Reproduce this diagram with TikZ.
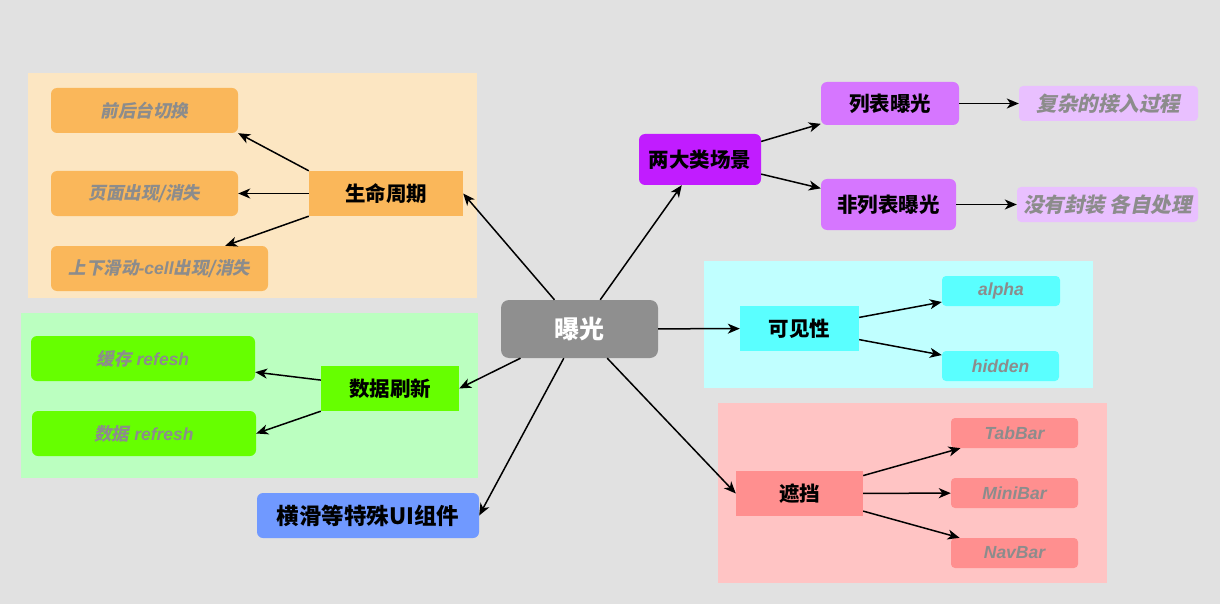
\documentclass[tikz,border=0pt]{standalone}
\usepackage{fontspec}
\setmainfont{Liberation Sans}
\newfontfamily\cjk{Noto Sans CJK SC}
\newfontfamily\cjkit{Noto Sans CJK SC}[FakeSlant=0.2]
\usetikzlibrary{arrows.meta}
\definecolor{pagebg}{RGB}{225,225,225}
\definecolor{orangebg}{RGB}{252,230,194}
\definecolor{orangebox}{RGB}{250,183,90}
\definecolor{greenbg}{RGB}{187,255,192}
\definecolor{greenbox}{RGB}{102,255,0}
\definecolor{cyanbg}{RGB}{192,255,255}
\definecolor{cyanbox}{RGB}{90,255,255}
\definecolor{pinkbg}{RGB}{255,196,196}
\definecolor{pinkbox}{RGB}{255,143,143}
\definecolor{purplebox}{RGB}{193,28,255}
\definecolor{lilacbox}{RGB}{214,118,255}
\definecolor{palebox}{RGB}{233,192,255}
\definecolor{bluebox}{RGB}{112,153,255}
\definecolor{mainbox}{RGB}{143,143,143}
\definecolor{leafgray}{RGB}{140,140,140}
\tikzset{
  topic/.style={inner sep=0pt, text=black, font=\cjk\bfseries\fontsize{20.5}{24}\selectfont},
  leaf/.style={inner sep=0pt, rounded corners=6pt, text=leafgray, font=\bfseries\fontsize{17.5}{20}\selectfont},
  link/.style={-{Stealth[length=12pt,width=10pt,inset=3.5pt]}, line width=1.5pt},
}
\begin{document}
\begin{tikzpicture}[x=1pt,y=-1pt]
	\fill[pagebg] (0,0) rectangle (1220,604);
	% groups
	\fill[orangebg] (28,73) rectangle (477,298);
	\fill[greenbg] (21,313) rectangle (478,478);
	\fill[cyanbg] (704,261) rectangle (1093,388);
	\fill[pinkbg] (718,403) rectangle (1107,583);
	% centre
	\node[topic,fill=mainbox,rounded corners=8pt,minimum width=157pt,minimum height=58pt,text=white,font=\cjk\bfseries\fontsize{25}{28}\selectfont] (bg) at (579.5,329) {曝光};
	% left
	\node[topic,fill=orangebox,minimum width=154pt,minimum height=45pt] (lc) at (386,193.5) {生命周期};
	\node[leaf,fill=orangebox,minimum width=187pt,minimum height=45pt] (qh) at (144.5,110.5) {\cjkit 前后台切换};
	\node[leaf,fill=orangebox,minimum width=187pt,minimum height=45pt] (ym) at (144.5,193.5) {\cjkit 页面出现/消失};
	\node[leaf,fill=orangebox,minimum width=217pt,minimum height=45pt] (hd) at (159.5,268.5) {{\cjkit 上下滑动}{\itshape -cell}{\cjkit 出现/消失}};
	\node[topic,fill=greenbox,minimum width=138pt,minimum height=45pt] (sj) at (390,388.5) {数据刷新};
	\node[leaf,fill=greenbox,minimum width=224pt,minimum height=45pt] (hc) at (143,358.5) {{\cjkit 缓存} {\itshape refesh}};
	\node[leaf,fill=greenbox,minimum width=224pt,minimum height=45pt] (sr) at (144,433.5) {{\cjkit 数据} {\itshape refresh}};
	\node[topic,fill=bluebox,rounded corners=6pt,minimum width=222pt,minimum height=45pt,font=\cjk\bfseries\fontsize{22.5}{26}\selectfont] (ui) at (368,515.5) {横滑等特殊UI组件};
	% right
	\node[topic,fill=purplebox,rounded corners=6pt,minimum width=122pt,minimum height=51pt] (cj) at (700,159.5) {两大类场景};
	\node[topic,fill=lilacbox,rounded corners=6pt,minimum width=138pt,minimum height=43pt] (lb) at (890,103.5) {列表曝光};
	\node[topic,fill=lilacbox,rounded corners=6pt,minimum width=135pt,minimum height=51pt] (fl) at (888.5,204.5) {非列表曝光};
	\node[leaf,fill=palebox,rounded corners=4pt,minimum width=179pt,minimum height=35pt,font=\bfseries\fontsize{20.5}{24}\selectfont] (fz) at (1108.5,103.5) {\cjkit 复杂的接入过程};
	\node[leaf,fill=palebox,rounded corners=4pt,minimum width=181pt,minimum height=35pt,font=\bfseries\fontsize{20.5}{24}\selectfont] (my) at (1107.5,204.5) {\cjkit 没有封装 各自处理};
	\node[topic,fill=cyanbox,minimum width=119pt,minimum height=45pt] (kj) at (799.5,328.5) {可见性};
	\node[leaf,fill=cyanbox,rounded corners=4pt,minimum width=118pt,minimum height=30pt] (al) at (1001,291) {\itshape alpha};
	\node[leaf,fill=cyanbox,rounded corners=4pt,minimum width=117pt,minimum height=30pt] (hi) at (1000.5,366) {\itshape hidden};
	\node[topic,fill=pinkbox,minimum width=127pt,minimum height=45pt] (zd) at (799.5,493.5) {遮挡};
	\node[leaf,fill=pinkbox,rounded corners=4pt,minimum width=127pt,minimum height=30pt] (tb) at (1014.5,433) {\itshape TabBar};
	\node[leaf,fill=pinkbox,rounded corners=4pt,minimum width=127pt,minimum height=30pt] (mb) at (1014.5,493) {\itshape MiniBar};
	\node[leaf,fill=pinkbox,rounded corners=4pt,minimum width=127pt,minimum height=30pt] (nb) at (1014.5,553) {\itshape NavBar};
	% links
	\draw[link] (bg) -- (lc.east);
	\draw[link] (bg) -- (sj.east);
	\draw[link] (bg) -- (ui.east);
	\draw[link] (bg) -- (cj);
	\draw[link] (bg) -- (kj);
	\draw[link] (bg) -- (zd.west);
	\draw[link] (lc.north west) -- (qh.south east);
	\draw[link] (lc.west) -- (ym.east);
	\draw[link] (lc.south west) -- ([xshift=-43pt]hd.north east);
	\draw[link] (sj) -- (hc);
	\draw[link] (sj.south west) -- (sr.east);
	\draw[link] (cj) -- (lb);
	\draw[link] (cj) -- (fl);
	\draw[link] (lb) -- (fz);
	\draw[link] (fl) -- (my);
	\draw[link] (kj) -- (al);
	\draw[link] (kj) -- (hi);
	\draw[link] (zd) -- (tb);
	\draw[link] (zd) -- (mb);
	\draw[link] (zd) -- (nb);
\end{tikzpicture}
\end{document}
